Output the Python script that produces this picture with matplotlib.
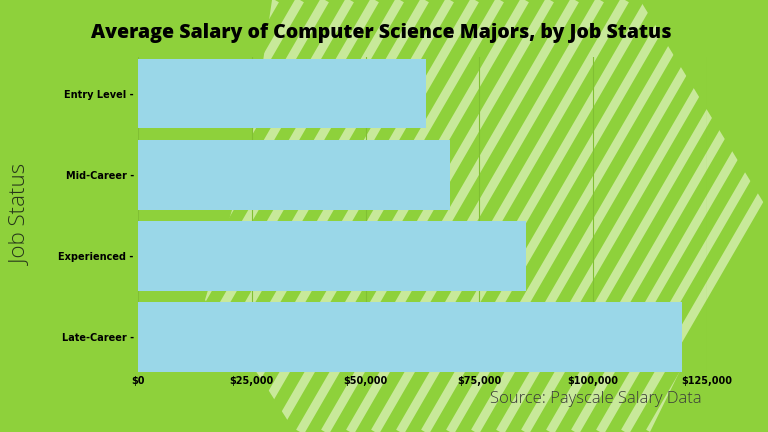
import numpy as np
import matplotlib.pyplot as plt
from matplotlib.patches import Polygon
from matplotlib.lines import Line2D

categories = ['Entry Level', 'Mid-Career', 'Experienced', 'Late-Career']
salaries = [63300, 68500, 85200, 119500]
xticks = [0, 25000, 50000, 75000, 100000, 125000]

W, H = 768, 432
fig = plt.figure(figsize=(7.68, 4.32), dpi=100, facecolor='#8ed13b')

# decorative striped shape in the background
pts = [(272, 0), (640, 0), (765, 205), (700, 330), (650, 432),
       (295, 432), (262, 380), (205, 300), (250, 150)]
poly = Polygon([(x / W, 1 - y / H) for x, y in pts], closed=True,
               transform=fig.transFigure, facecolor='none', edgecolor='none')
fig.add_artist(poly)
for x0 in range(-300, 1000, 25):
    ln = Line2D([x0 / W, (x0 + 250) / W], [0, 1], transform=fig.transFigure,
                color='#c8e99a', linewidth=6.5, solid_capstyle='butt', zorder=0)
    ln.set_clip_path(poly)
    fig.add_artist(ln)

ax = fig.add_axes([138 / W, 1 - 372 / H, (707 - 138) / W, (372 - 57) / H])
ax.set_facecolor('none')
ax.set_zorder(2)
y = np.arange(len(categories))
ax.barh(y, salaries, height=0.86, color='#9ad7e8', zorder=2)
ax.set_ylim(len(categories) - 0.57, -0.45)
ax.set_xlim(0, 125000)
ax.set_xticks(xticks)
ax.set_xticklabels([f'${v:,}' for v in xticks], fontsize=7, fontweight='bold')
ax.set_yticks(y)
ax.set_yticklabels([c + ' -' for c in categories], fontsize=7, fontweight='bold')
ax.tick_params(length=0, pad=3)
ax.grid(axis='x', color='#80bf33', linewidth=0.8, zorder=1)
for s in ax.spines.values():
    s.set_visible(False)
ax.set_ylabel('Job Status', fontsize=16, family='Open Sans', fontweight='light',
              color='#26361a', labelpad=20)

fig.text(381 / W, 1 - 33 / H, 'Average Salary of Computer Science Majors, by Job Status',
         ha='center', va='center', fontsize=14, fontweight='heavy', family='Open Sans')
fig.text(702 / W, 1 - 399 / H, 'Source: Payscale Salary Data', ha='right', va='center',
         fontsize=12, family='Open Sans', fontweight='light', color='#3a3a3a')

fig.savefig('out.png', dpi=100, facecolor=fig.get_facecolor())
